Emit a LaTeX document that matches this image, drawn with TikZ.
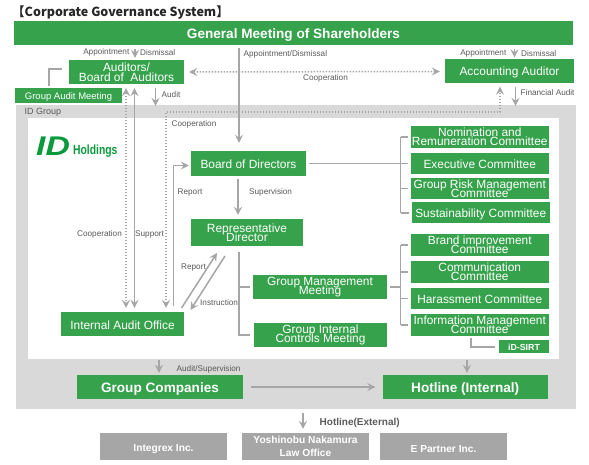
\documentclass[tikz,border=0pt]{standalone}
\usepackage{fontspec}
\setmainfont{Liberation Sans}
\newfontfamily\cjk{Noto Sans CJK JP}
\usetikzlibrary{arrows.meta}
\definecolor{grn}{HTML}{36A34C}
\definecolor{logog}{HTML}{0A9A3C}
\definecolor{lin}{HTML}{A6A6A6}
\definecolor{lbl}{HTML}{595959}
\newcommand{\tight}{\lineskiplimit=-100pt\relax}
\tikzset{
  lift/.style={execute at begin node={\rule{0pt}{#1em}}},
  gbox/.style={fill=grn,text=white,inner sep=0pt,align=center,font=\fontsize{11.9pt}{8.6pt}\selectfont\tight,lift=0.93},
  gboxw/.style={gbox,font=\fontsize{11.9pt}{10pt}\selectfont\tight},
  gbig/.style={fill=grn,text=white,inner sep=0pt,align=center,font=\bfseries\fontsize{13.6pt}{14pt}\selectfont\tight,lift=1.03},
  gsmall/.style={gbox,font=\fontsize{9.5pt}{12pt}\selectfont\tight},
  graybox/.style={fill=lin,text=white,inner sep=0pt,align=center,font=\bfseries\fontsize{10.2pt}{12.4pt}\selectfont\tight},
  lab/.style={text=lbl,inner sep=0pt,yshift=-0.8pt,font=\fontsize{8.2pt}{9pt}\selectfont},
  con/.style={draw=lin,line width=1.5pt},
  arr/.style={con,-{Stealth[length=8pt,width=8pt,inset=3pt]}},
  arrb/.style={con,{Stealth[length=8pt,width=8pt,inset=3pt]}-{Stealth[length=8pt,width=8pt,inset=3pt]}},
  dot/.style={draw=lin,line width=1.5pt,dash pattern=on 1.5pt off 1.5pt},
  dotb/.style={dot,{Stealth[length=8pt,width=8pt,inset=3pt]}-{Stealth[length=8pt,width=8pt,inset=3pt]}},
}
\begin{document}
\begin{tikzpicture}[x=1pt,y=-1pt]
\useasboundingbox (0,0) rectangle (589,465);
% background regions
\node[fill=black!15,minimum width=560pt,minimum height=304pt,inner sep=0pt] (idgroup) at (296,257) {};
\node[fill=white,minimum width=531pt,minimum height=241pt,inner sep=0pt] (idinner) at (293.5,238.5) {};
\node[anchor=west,text=lbl,inner sep=0pt,font=\fontsize{9pt}{10pt}\selectfont] (idlabel) at (24.5,112.5) {ID Group};
% title
\node[anchor=west,inner sep=0pt,text=black!85,font=\cjk\bfseries\fontsize{12.5pt}{14pt}\selectfont] (title) at (12,12.5) {【Corporate Governance System】};
% logo
\node[anchor=west,inner sep=0pt,text=logog,font=\bfseries\itshape\fontsize{27pt}{28pt}\selectfont] (logoid) at (36,146) {\scalebox{1.25}[1]{ID}};
\node[anchor=west,inner sep=0pt,text=logog,font=\bfseries\fontsize{11.5pt}{12pt}\selectfont] (logoh) at (73,151.5) {\scalebox{0.9}[1.15]{Holdings}};
% main boxes
\node[gbig,minimum width=559pt,minimum height=24pt] (gm) at (293.5,33) {General Meeting of Shareholders};
\node[gboxw,minimum width=115pt,minimum height=24pt] (aud) at (126.5,72) {Auditors/\\Board of\ \ Auditors};
\node[gsmall,minimum width=107pt,minimum height=15pt] (gam) at (68.5,96) {Group Audit Meeting};
\node[gbox,minimum width=129pt,minimum height=24pt] (acc) at (509.5,71.5) {Accounting Auditor};
\node[gbox,minimum width=115pt,minimum height=25pt] (bod) at (248.5,163.5) {Board of Directors};
\node[gbox,minimum width=112pt,minimum height=27pt] (rep) at (247,232.5) {Representative\\Director};
\node[gbox,minimum width=134pt,minimum height=24pt] (gmm) at (320,287) {Group Management\\Meeting};
\node[gbox,minimum width=133pt,minimum height=24pt] (gic) at (320.5,335) {Group Internal\\Controls Meeting};
\node[gbox,minimum width=123pt,minimum height=24pt] (iao) at (122.5,324) {Internal Audit Office};
% committees
\node[gbox,minimum width=138.5pt,minimum height=22pt] (c1) at (479.75,137) {Nomination and\\Remuneration Committee};
\node[gbox,minimum width=138.5pt,minimum height=21pt] (c2) at (479.75,163.5) {Executive Committee};
\node[gbox,minimum width=138.5pt,minimum height=21.5pt] (c3) at (479.75,188.75) {Group Risk Management\\Committee};
\node[gbox,minimum width=138.5pt,minimum height=21pt] (c4) at (480.75,213) {Sustainability Committee};
\node[gbox,minimum width=138.5pt,minimum height=22pt] (c5) at (479.75,245) {Brand improvement\\Committee};
\node[gbox,minimum width=138.5pt,minimum height=22pt] (c6) at (479.75,272) {Communication\\Committee};
\node[gbox,minimum width=138.5pt,minimum height=21pt] (c7) at (479.75,298.5) {Harassment Committee};
\node[gbox,minimum width=138.5pt,minimum height=22pt] (c8) at (479.75,325) {Information Management\\Committee};
\node[gbox,minimum width=50pt,minimum height=13pt,font=\bfseries\fontsize{8.8pt}{9pt}\selectfont] (sirt) at (524,346.5) {iD-SIRT};
\node[gbig,minimum width=166pt,minimum height=24pt] (gc) at (160,387) {Group Companies};
\node[gbig,minimum width=165.5pt,minimum height=24pt] (hot) at (465.25,387) {Hotline (Internal)};
% gray boxes
\node[graybox,lift=1.13,minimum width=127pt,minimum height=27pt] (g1) at (163.5,446.5) {Integrex Inc.};
\node[graybox,lift=0.85,minimum width=127pt,minimum height=27pt] (g2) at (305.5,446.5) {Yoshinobu Nakamura\\Law Office};
\node[graybox,lift=1.13,minimum width=127pt,minimum height=27pt] (g3) at (443.5,446.5) {E Partner Inc.};
% guide coordinates
\coordinate (xa) at (135,0); \coordinate (xb) at (239,0); \coordinate (xc) at (155.5,0);
\coordinate (xd) at (134.5,0); \coordinate (xe) at (126,0); \coordinate (xf) at (166,0);
\coordinate (xg) at (173.5,0); \coordinate (xh) at (514.5,0); \coordinate (xi) at (500,0);
\coordinate (xj) at (515.5,0); \coordinate (xk) at (49,0); \coordinate (xl) at (400.5,0);
\coordinate (xm) at (238,0); \coordinate (xn) at (471,0); \coordinate (xo) at (159,0);
\coordinate (xp) at (467,0); \coordinate (xq) at (303,0);
\coordinate (ya) at (0,112); \coordinate (yb) at (0,69); \coordinate (yc) at (0,165.5);
\coordinate (yd) at (0,347);
% top connectors
\draw[arr,shorten <=4pt,shorten >=2pt] (gm.south -| xa) -- (aud.north -| xa);
\draw[arr,shorten <=3pt,shorten >=8pt] (gm.south -| xb) -- (bod.north -| xb);
\draw[arr,shorten <=4pt,shorten >=2pt] (gm.south -| xh) -- (acc.north -| xh);
\draw[arr,shorten <=4pt,shorten >=-1pt] (aud.south -| xc) -- (idgroup.north -| xc);
\draw[arr,shorten <=3pt,shorten >=-1pt] (acc.south -| xj) -- (idgroup.north -| xj);
\draw[arrb,shorten <=4pt,shorten >=4pt] (aud.south -| xd) -- (iao.north -| xd);
\draw[dotb,shorten <=4pt,shorten >=4pt] (aud.south -| xe) -- (iao.north -| xe);
\draw[dotb,shorten <=5pt,shorten >=5pt] (aud.east) -- (acc.west);
\draw[dotb,shorten <=4pt,shorten >=3pt] (iao.north -| xf) -- (ya -| xf) -- (ya -| xi) -- (acc.south -| xi);
\draw[con] (gam.north -| xk) ++(0,-2) -- (yb -| xk) -- ([xshift=-7pt]aud.west |- yb);
% board and executive lines
\draw[arr,shorten <=6pt,shorten >=2pt] (iao.north -| xg) -- (yc -| xg) -- (bod.west |- yc);
\draw[arr,shorten <=3pt,shorten >=4pt] (bod.south -| xm) -- (rep.north -| xm);
\draw[con,shorten <=3pt] (bod.east) -- (bod.east -| xl);
\draw[con] (c1.west -| xl) -- (c4.west -| xl);
\foreach \n in {c1,c2,c3,c4}{\draw[con,shorten >=2.5pt] (\n.west -| xl) -- (\n.west);}
% report / instruction diagonals
\coordinate (rb) at (181.5,308); \coordinate (rt) at (217,253);
\coordinate (it) at (225,256); \coordinate (ib) at (190.5,310);
\draw[arr] (rb) -- (rt);
\draw[arr] (it) -- (ib);
% representative tree
\draw[con,shorten <=6pt] (rep.south -| xb) -- (gic.west -| xb) -- ([xshift=-4pt]gic.west);
\draw[con] (gmm.west -| xb) -- ([xshift=-3pt]gmm.west);
% group management tree
\draw[con,shorten <=3pt] (gmm.east) -- (gmm.east -| xl);
\draw[con] (c5.west -| xl) -- (c8.west -| xl);
\foreach \n in {c5,c6,c7,c8}{\draw[con,shorten >=2.5pt] (\n.west -| xl) -- (\n.west);}
% iD-SIRT
\draw[con,shorten <=2pt,shorten >=4pt] (c8.south -| xn) -- (yd -| xn) -- (sirt.west |- yd);
% bottom connectors
\draw[arr,line width=1.2pt,shorten <=1pt,shorten >=2pt] (idinner.south -| xo) -- (gc.north -| xo);
\draw[arr,line width=1.2pt,shorten <=1pt,shorten >=2pt] (idinner.south -| xp) -- (hot.north -| xp);
\draw[arr,shorten <=8pt,shorten >=7pt] (gc.east) -- (hot.west);
\draw[arr,line width=1.2pt,shorten <=4pt,shorten >=4pt] (idgroup.south -| xq) -- (g2.north -| xq);
% labels
\node[lab,anchor=east] (l1) at (129.5,52) {Appointment};
\node[lab,anchor=west] (l2) at (140,52) {Dismissal};
\node[lab,anchor=west] (l3) at (243.5,53.5) {Appointment/Dismissal};
\node[lab,anchor=east] (l4) at (506.5,52.5) {Appointment};
\node[lab,anchor=west] (l5) at (521,52.5) {Dismissal};
\node[lab,anchor=center] (l6) at (325.5,78) {Cooperation};
\node[lab,anchor=west] (l7) at (161.5,94) {Audit};
\node[lab,anchor=west] (l8) at (520.5,92) {Financial Audit};
\node[lab,anchor=west] (l9) at (171.5,123.5) {Cooperation};
\node[lab,anchor=west] (l10) at (177.5,191.5) {Report};
\node[lab,anchor=west] (l11) at (249,191.5) {Supervision};
\node[lab,anchor=west] (l12) at (77,234) {Cooperation};
\node[lab,anchor=west] (l13) at (135,234) {Support};
\node[lab,anchor=west] (l14) at (181,266.5) {Report};
\node[lab,anchor=west] (l15) at (200,302) {Instruction};
\node[lab,anchor=west] (l16) at (176.5,368.5) {Audit/Supervision};
\node[lab,anchor=west,font=\bfseries\fontsize{10pt}{10pt}\selectfont] (l17) at (319.5,422) {Hotline(External)};
\end{tikzpicture}
\end{document}
